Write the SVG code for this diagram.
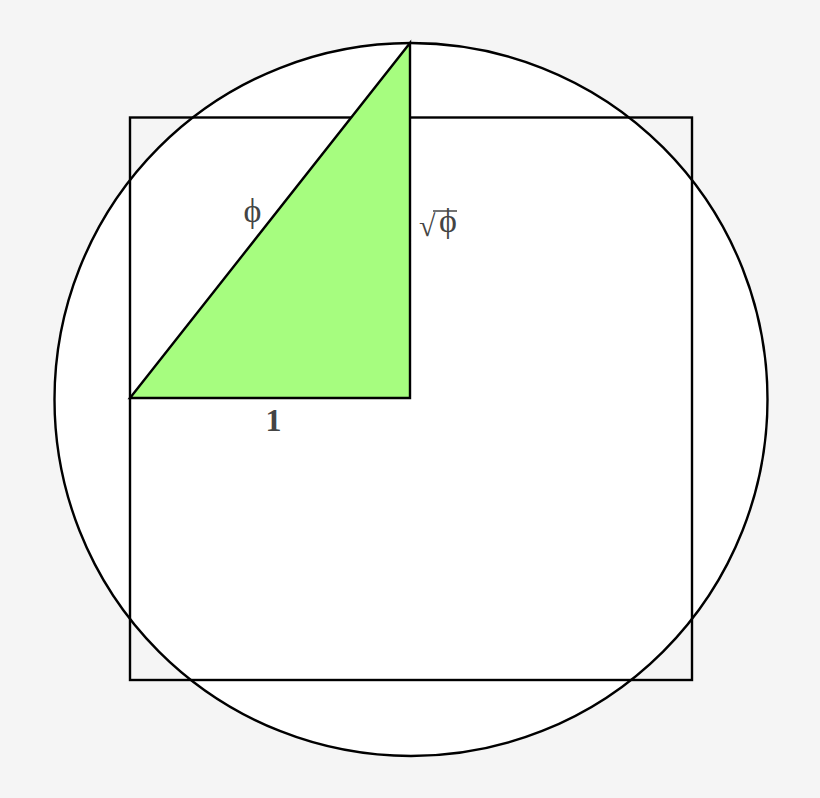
<svg xmlns="http://www.w3.org/2000/svg" width="820" height="798" viewBox="0 0 820 798">
<style>
.ln{fill:none;stroke:#000;stroke-width:2.4}
.lbl{font-family:"Liberation Serif","DejaVu Serif",serif;fill:#444}
</style>
<rect width="820" height="798" fill="#f5f5f5"/>
<g id="circle"><circle cx="411" cy="399.5" r="356.5" fill="#fff" stroke="#000" stroke-width="2.4"/></g>
<g id="square"><rect class="ln" x="130" y="117.5" width="562" height="562.5"/></g>
<g id="triangle"><polygon points="130,398 410,43 410,398" fill="#a6fd7f" stroke="#000" stroke-width="2.4" stroke-linejoin="miter"/></g>
<g id="connectors"></g>
<g id="labels">
<text class="lbl" x="252.5" y="222" font-size="34" text-anchor="middle">ϕ</text>
<text class="lbl" x="419" y="236" font-size="30">√</text>
<text class="lbl" x="448" y="232" font-size="34" text-anchor="middle">ϕ</text>
<line x1="433" y1="211" x2="457" y2="211" stroke="#444" stroke-width="1.5"/>
<text class="lbl" x="273.5" y="431" font-size="32" font-weight="bold" text-anchor="middle">1</text>
</g>
</svg>
